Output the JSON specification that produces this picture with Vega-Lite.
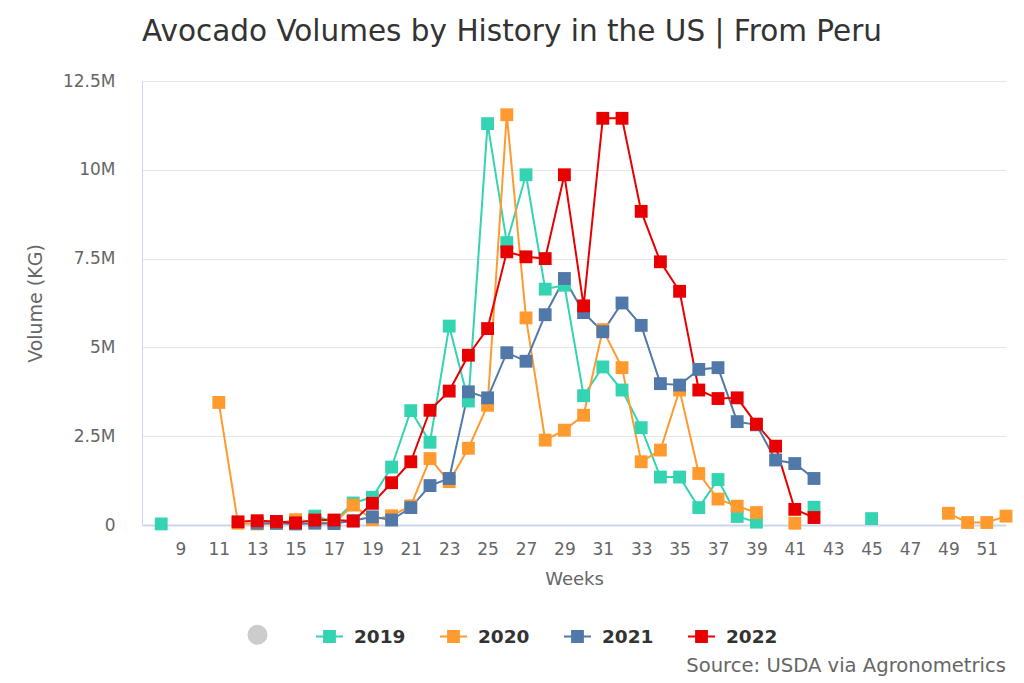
{
  "$schema": "https://vega.github.io/schema/vega-lite/v6.json",
  "width": 864,
  "height": 444,
  "autosize": {"type": "none"},
  "padding": {"left": 142, "top": 81, "right": 18, "bottom": 158},
  "background": "white",
  "title": {
    "text": "Avocado Volumes by History in the US | From Peru",
    "anchor": "start",
    "frame": "group",
    "font": "DejaVu Sans",
    "fontSize": 29.5,
    "fontWeight": "normal",
    "color": "#333333",
    "offset": 25
  },
  "config": {
    "view": {"stroke": null},
    "axis": {
      "labelFont": "DejaVu Sans",
      "labelFontSize": 17,
      "labelColor": "#666666",
      "titleFont": "DejaVu Sans",
      "titleFontWeight": "normal",
      "titleColor": "#666666",
      "ticks": false,
      "domainColor": "#ccd6eb"
    }
  },
  "datasets": {
    "volumes": [
      {"week": 8, "year": "2019", "kg": 30000},
      {"week": 9, "year": "2019", "kg": null},
      {"week": 16, "year": "2019", "kg": 250000},
      {"week": 17, "year": "2019", "kg": 100000},
      {"week": 18, "year": "2019", "kg": 620000},
      {"week": 19, "year": "2019", "kg": 780000},
      {"week": 20, "year": "2019", "kg": 1630000},
      {"week": 21, "year": "2019", "kg": 3220000},
      {"week": 22, "year": "2019", "kg": 2330000},
      {"week": 23, "year": "2019", "kg": 5600000},
      {"week": 24, "year": "2019", "kg": 3490000},
      {"week": 25, "year": "2019", "kg": 11300000},
      {"week": 26, "year": "2019", "kg": 7950000},
      {"week": 27, "year": "2019", "kg": 9860000},
      {"week": 28, "year": "2019", "kg": 6640000},
      {"week": 29, "year": "2019", "kg": 6750000},
      {"week": 30, "year": "2019", "kg": 3640000},
      {"week": 31, "year": "2019", "kg": 4450000},
      {"week": 32, "year": "2019", "kg": 3800000},
      {"week": 33, "year": "2019", "kg": 2740000},
      {"week": 34, "year": "2019", "kg": 1350000},
      {"week": 35, "year": "2019", "kg": 1350000},
      {"week": 36, "year": "2019", "kg": 490000},
      {"week": 37, "year": "2019", "kg": 1280000},
      {"week": 38, "year": "2019", "kg": 240000},
      {"week": 39, "year": "2019", "kg": 80000},
      {"week": 40, "year": "2019", "kg": null},
      {"week": 42, "year": "2019", "kg": 500000},
      {"week": 43, "year": "2019", "kg": null},
      {"week": 45, "year": "2019", "kg": 180000},

      {"week": 11, "year": "2020", "kg": 3450000},
      {"week": 12, "year": "2020", "kg": 50000},
      {"week": 13, "year": "2020", "kg": 30000},
      {"week": 14, "year": "2020", "kg": 40000},
      {"week": 15, "year": "2020", "kg": 150000},
      {"week": 16, "year": "2020", "kg": 80000},
      {"week": 17, "year": "2020", "kg": 50000},
      {"week": 18, "year": "2020", "kg": 560000},
      {"week": 19, "year": "2020", "kg": 150000},
      {"week": 20, "year": "2020", "kg": 260000},
      {"week": 21, "year": "2020", "kg": 540000},
      {"week": 22, "year": "2020", "kg": 1870000},
      {"week": 23, "year": "2020", "kg": 1220000},
      {"week": 24, "year": "2020", "kg": 2160000},
      {"week": 25, "year": "2020", "kg": 3370000},
      {"week": 26, "year": "2020", "kg": 11550000},
      {"week": 27, "year": "2020", "kg": 5830000},
      {"week": 28, "year": "2020", "kg": 2390000},
      {"week": 29, "year": "2020", "kg": 2670000},
      {"week": 30, "year": "2020", "kg": 3090000},
      {"week": 31, "year": "2020", "kg": 5500000},
      {"week": 32, "year": "2020", "kg": 4430000},
      {"week": 33, "year": "2020", "kg": 1780000},
      {"week": 34, "year": "2020", "kg": 2110000},
      {"week": 35, "year": "2020", "kg": 3800000},
      {"week": 36, "year": "2020", "kg": 1450000},
      {"week": 37, "year": "2020", "kg": 730000},
      {"week": 38, "year": "2020", "kg": 530000},
      {"week": 39, "year": "2020", "kg": 350000},
      {"week": 40, "year": "2020", "kg": null},
      {"week": 41, "year": "2020", "kg": 50000},
      {"week": 42, "year": "2020", "kg": null},
      {"week": 49, "year": "2020", "kg": 330000},
      {"week": 50, "year": "2020", "kg": 70000},
      {"week": 51, "year": "2020", "kg": 70000},
      {"week": 52, "year": "2020", "kg": 250000},

      {"week": 13, "year": "2021", "kg": 50000},
      {"week": 14, "year": "2021", "kg": 50000},
      {"week": 15, "year": "2021", "kg": 30000},
      {"week": 16, "year": "2021", "kg": 50000},
      {"week": 17, "year": "2021", "kg": 40000},
      {"week": 18, "year": "2021", "kg": 120000},
      {"week": 19, "year": "2021", "kg": 230000},
      {"week": 20, "year": "2021", "kg": 140000},
      {"week": 21, "year": "2021", "kg": 490000},
      {"week": 22, "year": "2021", "kg": 1110000},
      {"week": 23, "year": "2021", "kg": 1310000},
      {"week": 24, "year": "2021", "kg": 3750000},
      {"week": 25, "year": "2021", "kg": 3580000},
      {"week": 26, "year": "2021", "kg": 4850000},
      {"week": 27, "year": "2021", "kg": 4610000},
      {"week": 28, "year": "2021", "kg": 5920000},
      {"week": 29, "year": "2021", "kg": 6940000},
      {"week": 30, "year": "2021", "kg": 5980000},
      {"week": 31, "year": "2021", "kg": 5440000},
      {"week": 32, "year": "2021", "kg": 6250000},
      {"week": 33, "year": "2021", "kg": 5620000},
      {"week": 34, "year": "2021", "kg": 3980000},
      {"week": 35, "year": "2021", "kg": 3940000},
      {"week": 36, "year": "2021", "kg": 4380000},
      {"week": 37, "year": "2021", "kg": 4430000},
      {"week": 38, "year": "2021", "kg": 2910000},
      {"week": 39, "year": "2021", "kg": 2820000},
      {"week": 40, "year": "2021", "kg": 1830000},
      {"week": 41, "year": "2021", "kg": 1730000},
      {"week": 42, "year": "2021", "kg": 1310000},

      {"week": 12, "year": "2022", "kg": 90000},
      {"week": 13, "year": "2022", "kg": 120000},
      {"week": 14, "year": "2022", "kg": 100000},
      {"week": 15, "year": "2022", "kg": 60000},
      {"week": 16, "year": "2022", "kg": 140000},
      {"week": 17, "year": "2022", "kg": 140000},
      {"week": 18, "year": "2022", "kg": 110000},
      {"week": 19, "year": "2022", "kg": 610000},
      {"week": 20, "year": "2022", "kg": 1190000},
      {"week": 21, "year": "2022", "kg": 1780000},
      {"week": 22, "year": "2022", "kg": 3230000},
      {"week": 23, "year": "2022", "kg": 3770000},
      {"week": 24, "year": "2022", "kg": 4780000},
      {"week": 25, "year": "2022", "kg": 5530000},
      {"week": 26, "year": "2022", "kg": 7690000},
      {"week": 27, "year": "2022", "kg": 7550000},
      {"week": 28, "year": "2022", "kg": 7500000},
      {"week": 29, "year": "2022", "kg": 9860000},
      {"week": 30, "year": "2022", "kg": 6170000},
      {"week": 31, "year": "2022", "kg": 11450000},
      {"week": 32, "year": "2022", "kg": 11450000},
      {"week": 33, "year": "2022", "kg": 8830000},
      {"week": 34, "year": "2022", "kg": 7410000},
      {"week": 35, "year": "2022", "kg": 6580000},
      {"week": 36, "year": "2022", "kg": 3800000},
      {"week": 37, "year": "2022", "kg": 3560000},
      {"week": 38, "year": "2022", "kg": 3580000},
      {"week": 39, "year": "2022", "kg": 2840000},
      {"week": 40, "year": "2022", "kg": 2220000},
      {"week": 41, "year": "2022", "kg": 440000},
      {"week": 42, "year": "2022", "kg": 210000}
    ],
    "caption": [
      {"note": "Source: USDA via Agronometrics"}
    ]
  },
  "layer": [
    {
      "data": {"name": "volumes"},
      "mark": {"type": "line", "strokeWidth": 2, "invalid": "break-paths-show-domains"},
      "encoding": {
        "x": {
          "field": "week",
          "type": "quantitative",
          "scale": {"domain": [7, 52], "nice": false, "zero": false},
          "axis": {
            "title": "Weeks",
            "values": [9, 11, 13, 15, 17, 19, 21, 23, 25, 27, 29, 31, 33, 35, 37, 39, 41, 43, 45, 47, 49, 51],
            "grid": false,
            "domainWidth": 2,
            "labelPadding": 16,
            "titleFontSize": 18,
            "titlePadding": 13
          }
        },
        "y": {
          "field": "kg",
          "type": "quantitative",
          "scale": {"domain": [0, 12500000], "nice": false},
          "axis": {
            "title": "Volume (KG)",
            "values": [0, 2500000, 5000000, 7500000, 10000000, 12500000],
            "labelExpr": "datum.value == 0 ? '0' : format(datum.value / 1000000, '~g') + 'M'",
            "grid": true,
            "gridColor": "#e6e6e6",
            "domain": true,
            "labelPadding": 27,
            "titleFontSize": 19,
            "titlePadding": 17
          }
        },
        "color": {
          "field": "year",
          "type": "nominal",
          "scale": {
            "domain": ["", "2019", "2020", "2021", "2022"],
            "range": ["#cccccc", "#34d3b1", "#ff9a2e", "#5079a9", "#e80000"]
          },
          "legend": {
            "orient": "none",
            "legendX": 101,
            "legendY": 539,
            "direction": "horizontal",
            "title": null,
            "padding": 0,
            "labelFont": "DejaVu Sans",
            "labelFontWeight": "bold",
            "labelFontSize": 18.5,
            "labelColor": "#333333",
            "labelOffset": 10,
            "columnPadding": 30,
            "symbolSize": 729,
            "symbolType": "M-1,0H1M-0.4,-0.4H0.4V0.4H-0.4Z",
            "symbolStrokeWidth": 2,
            "encode": {
              "symbols": {
                "update": {
                  "shape": {"signal": "datum.value === '' ? 'circle' : 'M-1,0H1M-0.4,-0.4H0.4V0.4H-0.4Z'"},
                  "size": {"signal": "datum.value === '' ? 324 : 729"},
                  "fill": {"scale": "color", "field": "value"},
                  "stroke": {"scale": "color", "field": "value"},
                  "strokeWidth": {"value": 2},
                  "opacity": {"value": 1}
                }
              }
            }
          }
        }
      }
    },
    {
      "data": {"name": "volumes"},
      "mark": {"type": "point", "shape": "square", "filled": true, "size": 165, "opacity": 1},
      "encoding": {
        "x": {"field": "week", "type": "quantitative"},
        "y": {"field": "kg", "type": "quantitative"},
        "color": {"field": "year", "type": "nominal"}
      }
    },
    {
      "data": {"name": "caption"},
      "mark": {
        "type": "text",
        "align": "right",
        "baseline": "middle",
        "font": "DejaVu Sans",
        "fontSize": 19.6,
        "color": "#666666",
        "clip": false
      },
      "encoding": {
        "x": {"datum": 52, "type": "quantitative"},
        "y": {"datum": -3980000, "type": "quantitative"},
        "text": {"field": "note", "type": "nominal"}
      }
    }
  ]
}
